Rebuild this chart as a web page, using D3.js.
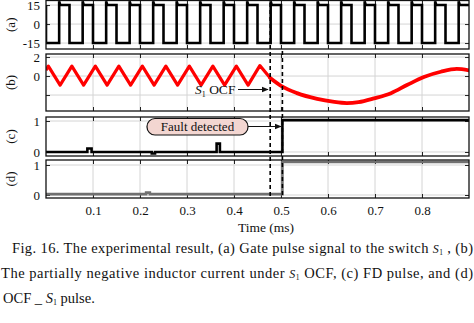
<!DOCTYPE html>
<html>
<head>
<meta charset="utf-8">
<script src="https://cdn.jsdelivr.net/npm/d3@7"></script>
<style>
  html, body { margin: 0; padding: 0; background: #fff; }
  svg { display: block; }
  text { font-family: "Liberation Serif", "Times New Roman", serif; fill: #111; }
</style>
</head>
<body>
<svg id="chart" width="474" height="323"></svg>
<script>
// ---------------- data ----------------
const xTicks = [0.1, 0.2, 0.3, 0.4, 0.5, 0.6, 0.7, 0.8];
const xTickLabels = ["0.1", "0.2", "0.3", "0.4", "0.5", "0.6", "0.7", "0.8"];

// (a) gate pulse: edge times (ms) and levels
const gateFallTimes = [0.000, 0.050, 0.100, 0.150, 0.200, 0.250, 0.300, 0.350, 0.400,
                       0.450, 0.500, 0.550, 0.600, 0.650, 0.700, 0.750, 0.800, 0.850];
const gateRiseTimes = [0.028, 0.078, 0.128, 0.178, 0.228, 0.278, 0.328, 0.378, 0.428,
                       0.478, 0.528, 0.578, 0.628, 0.678, 0.728, 0.778, 0.828, 0.878];
const gateLevels = { high: 15, low: -15, overshoot: 18 };
const aTicks = [15, 0, -15];
const aTickLabels = ["15", "0", "-15"];

// (b) inductor current: triangle before the fault, then the OCF swing
const triTimes  = [0.000, 0.005, 0.030, 0.055, 0.080, 0.105, 0.130, 0.155, 0.180, 0.205, 0.230,
                   0.255, 0.280, 0.305, 0.330, 0.355, 0.380, 0.405, 0.430, 0.455, 0.477];
const triValues = [0.6, 1.05, -0.95, 1.05, -0.95, 1.05, -0.95, 1.05, -0.95, 1.05, -0.95,
                   1.05, -0.95, 1.05, -0.95, 1.05, -0.95, 1.05, -0.95, 1.1, -0.2];
const ocfTimes  = [0.477, 0.504, 0.534, 0.577, 0.610, 0.640, 0.665, 0.698, 0.734, 0.768, 0.804, 0.840, 0.874, 0.900];
const ocfValues = [-0.2, -1.15, -1.8, -2.4, -2.7, -2.85, -2.75, -2.35, -1.8, -0.95, -0.1, 0.45, 0.75, 0.6];
const bTicks = [2, 0, -2];
const bTickLabels = ["2", "0", ""];

// (c) FD pulse
const fdTimes  = [0.000, 0.088, 0.088, 0.097, 0.097, 0.225, 0.225, 0.232, 0.232, 0.363, 0.363, 0.370, 0.370, 0.503, 0.503, 0.900];
const fdValues = [0, 0, 0.11, 0.11, 0, 0, -0.05, -0.05, 0, 0, 0.27, 0.27, 0, 0, 1.03, 1.03];
const cTicks = [1, 0];
const cTickLabels = ["1", "0"];

// (d) OCF_S1 pulse
const dTimes  = [0.000, 0.213, 0.213, 0.221, 0.221, 0.503, 0.503, 0.900];
const dValues = [0.03, 0.03, 0.08, 0.08, 0.03, 0.03, 1.1, 1.1];
const dTicks = [1, 0];
const dTickLabels = ["1", "0"];

const faultTimes = [0.477, 0.503];

// ---------------- layout ----------------
const svg = d3.select("#chart");
svg.append("rect").attr("width", 474).attr("height", 323).attr("fill", "#fff");

const x = d3.scaleLinear().domain([0, 0.9]).range([46, 469]);

const panels = [
  { id: "a", top: 0.5, bottom: 49,  domain: [-19.7, 18.6], ticks: aTicks, labels: aTickLabels, lab: "(a)" },
  { id: "b", top: 54,  bottom: 111, domain: [-3.68, 2.32], ticks: bTicks, labels: bTickLabels, lab: "(b)" },
  { id: "c", top: 117, bottom: 156, domain: [-0.13, 1.13], ticks: cTicks, labels: cTickLabels, lab: "(c)" },
  { id: "d", top: 160, bottom: 198, domain: [-0.1, 1.167], ticks: dTicks, labels: dTickLabels, lab: "(d)" }
];
panels.forEach(p => { p.y = d3.scaleLinear().domain(p.domain).range([p.bottom, p.top]); });
const P = Object.fromEntries(panels.map(p => [p.id, p]));

const defs = svg.append("defs");
panels.forEach(p => {
  defs.append("clipPath").attr("id", "clip-" + p.id)
    .append("rect").attr("x", x.range()[0]).attr("y", p.top)
    .attr("width", x.range()[1] - x.range()[0]).attr("height", p.bottom - p.top);
});
defs.append("marker").attr("id", "arrow").attr("viewBox", "0 0 10 10")
  .attr("refX", 9).attr("refY", 5).attr("markerWidth", 7).attr("markerHeight", 7)
  .attr("markerUnits", "userSpaceOnUse").attr("orient", "auto")
  .append("path").attr("d", "M0,1 L10,5 L0,9 Z").attr("fill", "#111");

// grids and axes
panels.forEach(p => {
  const g = svg.append("g");
  g.selectAll("line.vg").data(xTicks).join("line")
    .attr("x1", d => x(d)).attr("x2", d => x(d))
    .attr("y1", p.top).attr("y2", p.bottom)
    .attr("stroke", "#d4d4d4").attr("stroke-width", 1);
  g.selectAll("line.hg").data(p.ticks).join("line")
    .attr("x1", x.range()[0]).attr("x2", x.range()[1])
    .attr("y1", d => p.y(d)).attr("y2", d => p.y(d))
    .attr("stroke", "#d4d4d4").attr("stroke-width", 1);

  const left = d3.axisLeft(p.y).tickValues(p.ticks)
    .tickFormat((d, i) => p.labels[i]).tickSize(-4).tickPadding(6);
  const gl = svg.append("g").attr("transform", `translate(${x.range()[0]},0)`).call(left);
  const right = d3.axisRight(p.y).tickValues(p.ticks).tickFormat("").tickSize(-4);
  const gr = svg.append("g").attr("transform", `translate(${x.range()[1]},0)`).call(right);
  const top = d3.axisTop(x).tickValues(xTicks).tickFormat("").tickSize(-4);
  const gt = svg.append("g").attr("transform", `translate(0,${p.top})`).call(top);
  const bottom = d3.axisBottom(x).tickValues(xTicks)
    .tickFormat((d, i) => p.id === "d" ? xTickLabels[i] : "").tickSize(-4).tickPadding(8);
  const gb = svg.append("g").attr("transform", `translate(0,${p.bottom})`).call(bottom);
  [gl, gr, gt, gb].forEach(a => {
    a.select(".domain").remove();
    a.selectAll(".tick line").attr("stroke", "#222").attr("stroke-width", 1);
    a.selectAll("text").attr("font-size", 13).attr("fill", "#111")
      .style("font-family", "'Liberation Serif', serif");
  });
  p.g = svg.append("g").attr("clip-path", `url(#clip-${p.id})`);

  svg.append("text").attr("transform", `translate(15,${(p.top + p.bottom) / 2}) rotate(-90)`)
    .attr("text-anchor", "middle").attr("font-size", 13).text(p.lab);
});

// (a) gate pulse path
(function () {
  const pa = P.a, pts = [[0, gateLevels.high]];
  const edges = gateFallTimes.map(t => ({ t, type: "f" }))
    .concat(gateRiseTimes.map(t => ({ t, type: "r" }))).sort((u, v) => u.t - v.t);
  let level = gateLevels.high;
  edges.forEach(e => {
    if (e.type === "f") { pts.push([e.t, level], [e.t, gateLevels.low]); level = gateLevels.low; }
    else { pts.push([e.t, level], [e.t, gateLevels.overshoot], [e.t + 0.0025, gateLevels.high]); level = gateLevels.high; }
  });
  pts.push([0.9, level]);
  const line = d3.line().x(d => x(d[0])).y(d => pa.y(d[1]));
  pa.g.append("path").attr("d", line(pts)).attr("fill", "none")
    .attr("stroke", "#000").attr("stroke-width", 2.6).attr("stroke-linejoin", "miter");
})();

// (b) inductor current
(function () {
  const pb = P.b;
  const lineLin = d3.line().x(d => x(d[0])).y(d => pb.y(d[1]));
  const lineSm = d3.line().curve(d3.curveMonotoneX).x(d => x(d[0])).y(d => pb.y(d[1]));
  pb.g.append("path").attr("d", lineLin(triTimes.map((t, i) => [t, triValues[i]])))
    .attr("fill", "none").attr("stroke", "#f00").attr("stroke-width", 3.2).attr("stroke-linejoin", "round");
  pb.g.append("path").attr("d", lineSm(ocfTimes.map((t, i) => [t, ocfValues[i]])))
    .attr("fill", "none").attr("stroke", "#f00").attr("stroke-width", 3.8).attr("stroke-linecap", "round");
})();

// (c) and (d) pulses
(function () {
  const pc = P.c, pd = P.d;
  const lc = d3.line().x(d => x(d[0])).y(d => pc.y(d[1]));
  const ld = d3.line().x(d => x(d[0])).y(d => pd.y(d[1]));
  pc.g.append("path").attr("d", lc(fdTimes.map((t, i) => [t, fdValues[i]])))
    .attr("fill", "none").attr("stroke", "#000").attr("stroke-width", 2.6);
  pd.g.append("path").attr("d", ld(dTimes.map((t, i) => [t, dValues[i]])))
    .attr("fill", "none").attr("stroke", "#707070").attr("stroke-width", 2.6);
})();

// panel frames
panels.forEach(p => {
  svg.append("rect").attr("x", x.range()[0]).attr("y", p.top)
    .attr("width", x.range()[1] - x.range()[0]).attr("height", p.bottom - p.top)
    .attr("fill", "none").attr("stroke", "#111").attr("stroke-width", 1.3);
});

// dashed fault markers
svg.append("line").attr("x1", x(faultTimes[0])).attr("x2", x(faultTimes[0]))
  .attr("y1", 3).attr("y2", P.d.bottom)
  .attr("stroke", "#000").attr("stroke-width", 1.6).attr("stroke-dasharray", "4,3");
svg.append("line").attr("x1", x(faultTimes[1])).attr("x2", x(faultTimes[1]))
  .attr("y1", P.b.top - 3).attr("y2", P.d.bottom)
  .attr("stroke", "#000").attr("stroke-width", 1.6).attr("stroke-dasharray", "4,3");

// S1 OCF annotation
const ann = svg.append("text").attr("x", 195).attr("y", 94).attr("font-size", 13.5);
ann.append("tspan").attr("font-style", "italic").text("S");
ann.append("tspan").attr("font-size", 8).attr("dy", 3).text("1");
ann.append("tspan").attr("dy", -3).text(" OCF");
svg.append("line").attr("x1", 238).attr("x2", 268).attr("y1", 89.5).attr("y2", 89.5)
  .attr("stroke", "#111").attr("stroke-width", 1).attr("marker-end", "url(#arrow)");

// Fault detected annotation
svg.append("rect").attr("x", 147).attr("y", 118.5).attr("width", 101).attr("height", 16.5)
  .attr("rx", 8).attr("ry", 8).attr("fill", "#f3d6d1").attr("stroke", "#111").attr("stroke-width", 1.2);
svg.append("text").attr("x", 197.5).attr("y", 131).attr("text-anchor", "middle")
  .attr("font-size", 13).text("Fault detected");
svg.append("line").attr("x1", 248).attr("x2", 281).attr("y1", 126.5).attr("y2", 126.5)
  .attr("stroke", "#111").attr("stroke-width", 1).attr("marker-end", "url(#arrow)");

// x axis title
svg.append("text").attr("x", 266).attr("y", 232).attr("text-anchor", "middle")
  .attr("font-size", 13.5).text("Time (ms)");

// caption
const cap1 = svg.append("text").attr("x", 12).attr("y", 253).attr("font-size", 14.5)
  .attr("textLength", 461).attr("lengthAdjust", "spacing");
cap1.append("tspan").text("Fig. 16. The experimental result, (a) Gate pulse signal to the switch  ");
cap1.append("tspan").attr("font-style", "italic").attr("font-size", 12).text("S");
cap1.append("tspan").attr("font-size", 7.5).attr("dy", 2).text("1");
cap1.append("tspan").attr("dy", -2).text(" , (b)");

const cap2 = svg.append("text").attr("x", 1).attr("y", 278).attr("font-size", 14.5)
  .attr("textLength", 472).attr("lengthAdjust", "spacing");
cap2.append("tspan").text("The partially negative inductor current under  ");
cap2.append("tspan").attr("font-style", "italic").attr("font-size", 12).text("S");
cap2.append("tspan").attr("font-size", 7.5).attr("dy", 2).text("1");
cap2.append("tspan").attr("dy", -2).text("  OCF, (c) FD pulse, and (d)");

const cap3 = svg.append("text").attr("x", 3).attr("y", 303).attr("font-size", 14.5);
cap3.append("tspan").text("OCF _ ");
cap3.append("tspan").attr("font-style", "italic").text("S");
cap3.append("tspan").attr("font-size", 8).attr("dy", 2).text("1");
cap3.append("tspan").attr("dy", -2).text(" pulse.");
</script>
</body>
</html>
